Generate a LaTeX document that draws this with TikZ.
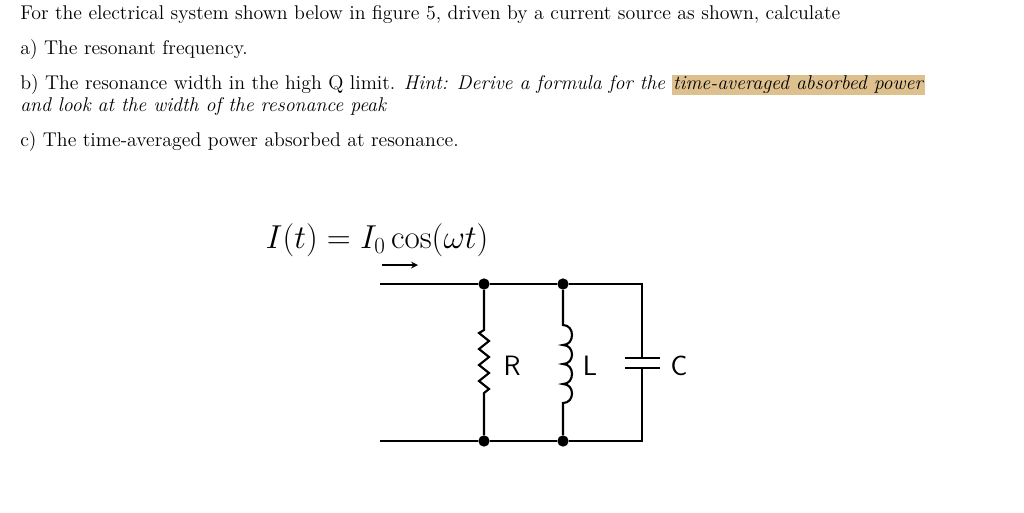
\documentclass[tikz,border=0pt]{standalone}
\definecolor{hl}{RGB}{222,192,142}
\tikzset{txt/.style={anchor=west,inner sep=0pt,font=\fontsize{14.9}{17}\selectfont},
wire/.style={line width=1.6pt},
dot/.style={circle,fill=black,inner sep=0pt,minimum size=8.5pt},
lab/.style={font=\sffamily\fontsize{21}{23}\selectfont,inner sep=0pt}}
\begin{document}
\begin{tikzpicture}[x=0.75pt,y=-0.75pt]
\useasboundingbox (0,0) rectangle (1024,512);
\node[txt] (t1) at (20,15) {For the electrical system shown below in figure 5, driven by a current source as shown, calculate};
\node[txt] (t2) at (20,50) {a) The resonant frequency.};
\node[txt] (t3) at (20,85) {b) The resonance width in the high Q limit. \textit{Hint: Derive a formula for the} {\setlength{\fboxsep}{1pt}\colorbox{hl}{\textit{time-averaged absorbed power}}}};
\node[txt] (t4) at (20,107) {\textit{and look at the width of the resonance peak}};
\node[txt] (t5) at (20,142) {c) The time-averaged power absorbed at resonance.};
\node[inner sep=0pt,font=\fontsize{23}{26}\selectfont] (f) at (377,240) {$I(t)=I_0\cos(\omega t)$};
\coordinate (a1) at (382,265); \coordinate (a2) at (418,265);
\draw[-stealth,line width=1.3pt] (a1) -- (a2);
\coordinate (tl) at (380,284); \coordinate (bl) at (380,441);
\node[dot] (r1) at (484,284) {}; \node[dot] (r2) at (484,441) {};
\node[dot] (l1) at (563,284) {}; \node[dot] (l2) at (563,441) {};
\coordinate (c1) at (642,284); \coordinate (c2) at (642,441);
\draw[wire] (tl) -- (r1) -- (l1) -- (c1) -- (642,358);
\draw[wire] (bl) -- (r2) -- (l2) -- (c2) -- (642,368);
\draw[wire] (625,358) -- (660,358); \draw[wire] (625,368) -- (660,368);
\draw[wire] (r1) -- (484,330) -- (479,333) -- (489,341) -- (479,349) -- (489,357) -- (479,365) -- (489,373) -- (479,381) -- (489,389) -- (484,393) -- (r2);
\draw[wire] (l1) -- (563,325) .. controls (575,325) and (575,345) .. (563,345)
 .. controls (575,345) and (575,364) .. (563,364)
 .. controls (575,364) and (575,384) .. (563,384)
 .. controls (575,384) and (575,403) .. (563,403) -- (l2);
\node[lab] (R) at (512,366) {R};
\node[lab] (L) at (590,366) {L};
\node[lab] (C) at (679,366) {C};
\end{tikzpicture}
\end{document}
